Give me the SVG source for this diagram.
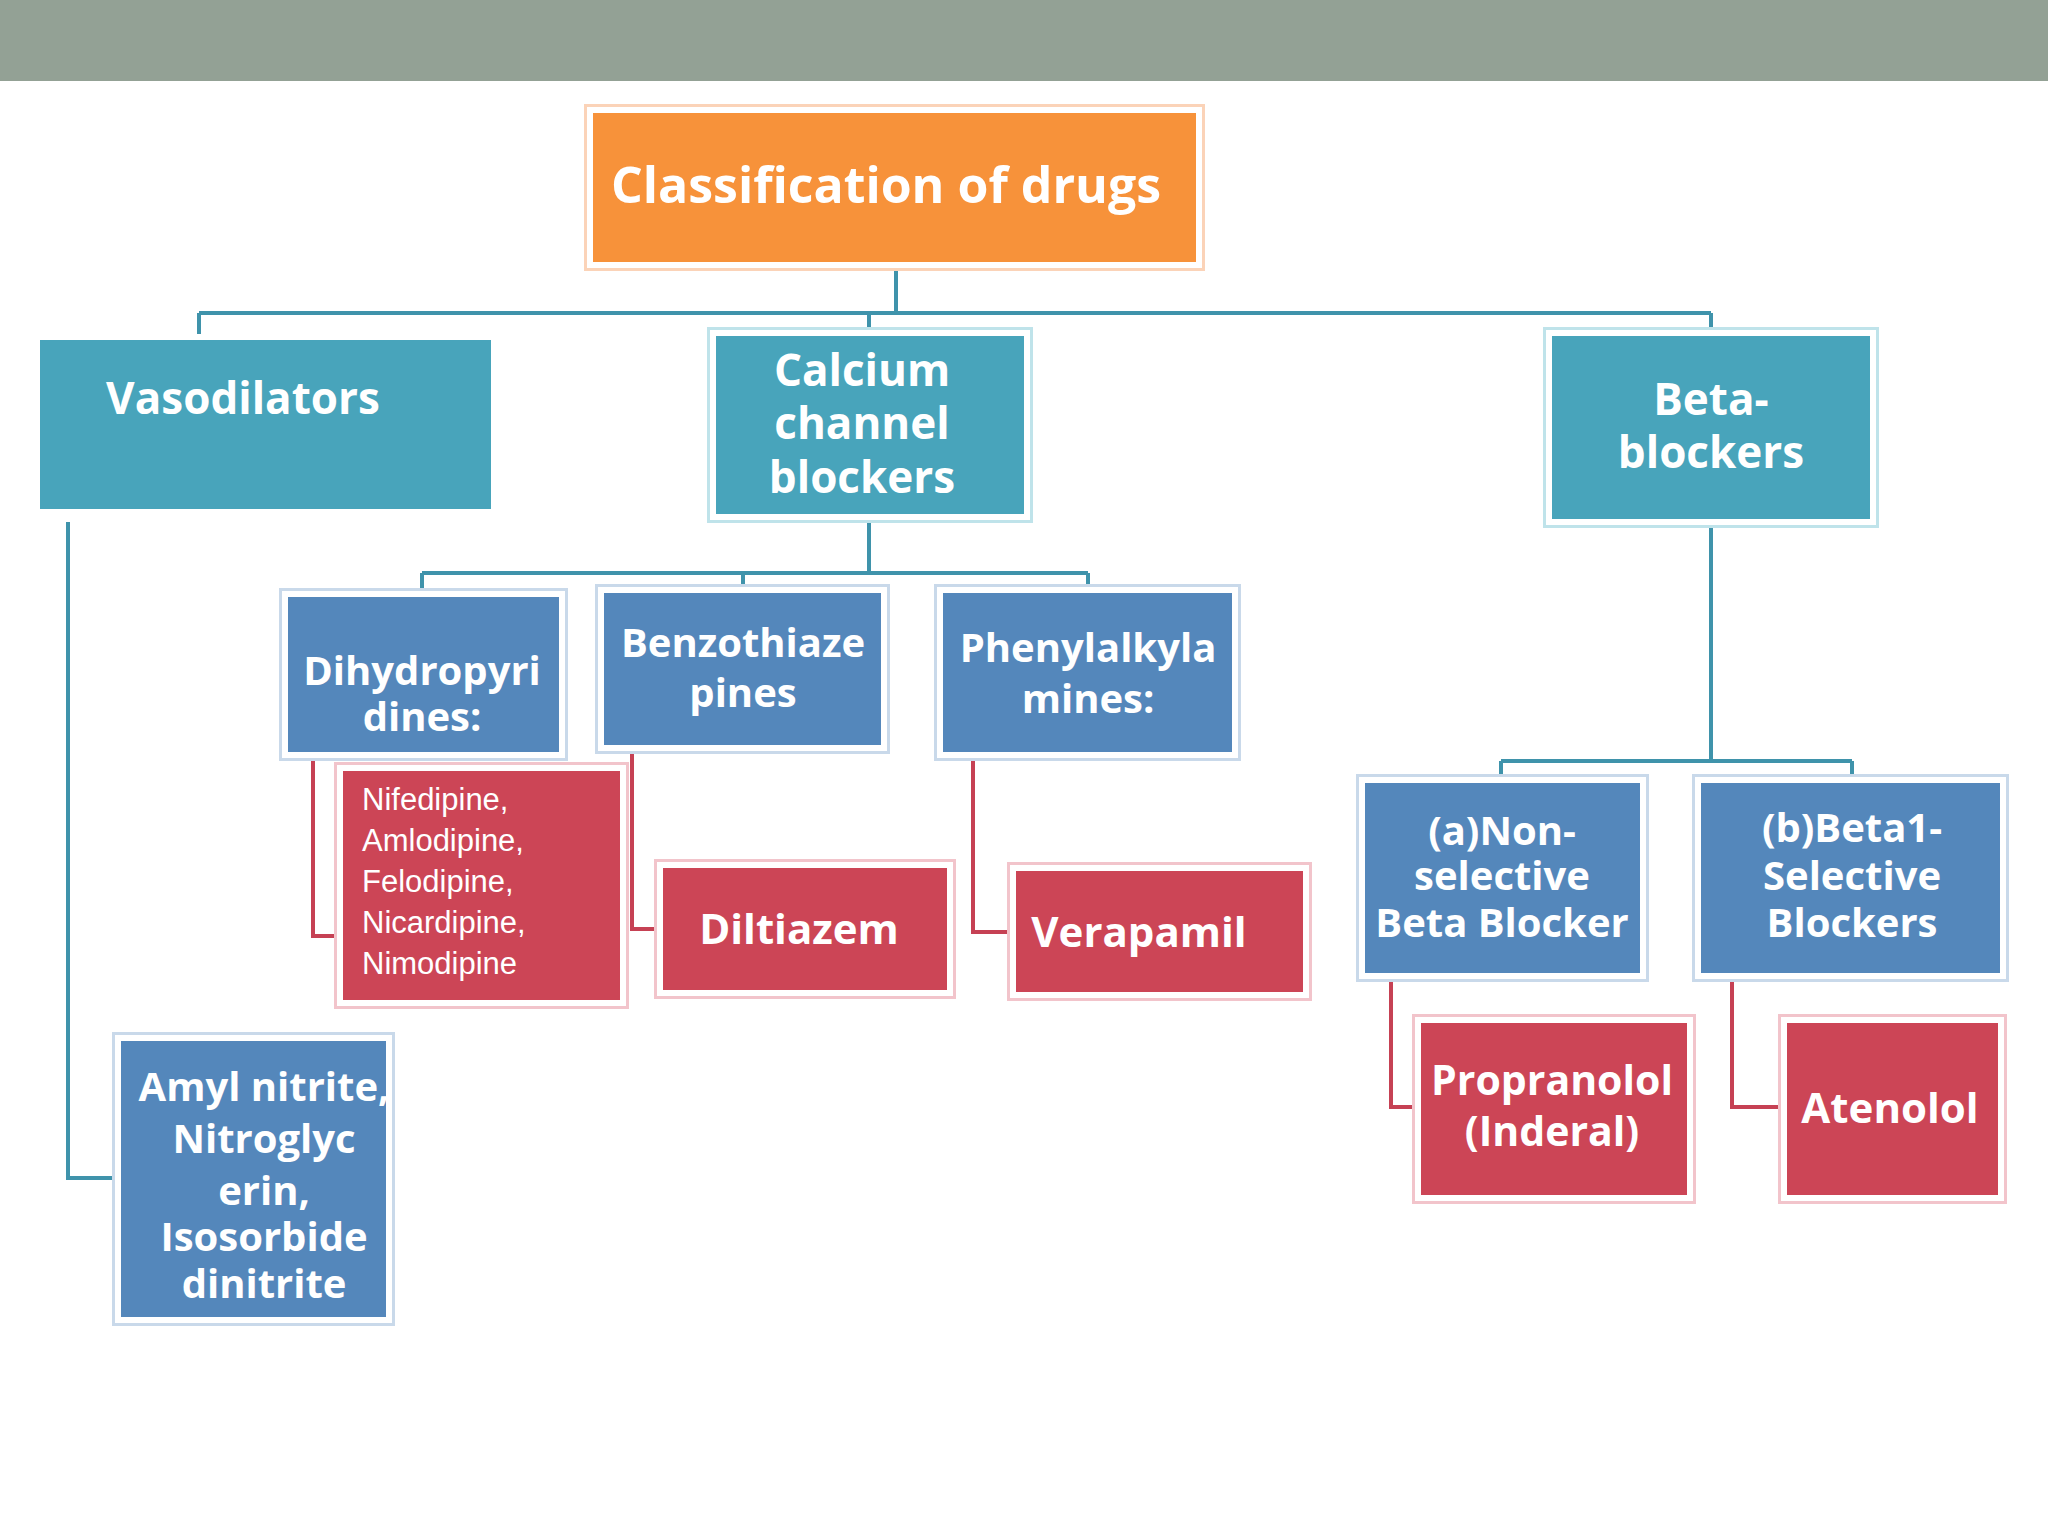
<svg xmlns="http://www.w3.org/2000/svg" width="2048" height="1536" viewBox="0 0 2048 1536">
<style>
.t{font-family:"Open Sans","Liberation Sans",sans-serif;font-weight:bold;fill:#fff;text-anchor:middle}
.teal{fill:#48a4bb;stroke:#fff;stroke-width:6}
.blue{fill:#5487bb;stroke:#fff;stroke-width:6}
.red{fill:#cc4556;stroke:#fff;stroke-width:6}
.glowT{fill:none;stroke:#bfe3ea;stroke-width:12}
.glowB{fill:none;stroke:#c9d9ea;stroke-width:12}
.glowR{fill:none;stroke:#f2c4cb;stroke-width:12}
.cT{fill:none;stroke:#3f93ab;stroke-width:4}
.cR{fill:none;stroke:#c64154;stroke-width:4}
</style>
<rect x="0" y="0" width="2048" height="81" fill="#93a195"/>
<g id="connectors">
<path class="cT" d="M896 265V313M199 313H1711M199 313V337M869 313V333M1711 313V333"/>
<path class="cT" d="M869 517V573M422 573H1088M422 573V594M743 573V590M1088 573V590"/>
<path class="cT" d="M68 522V1178H118"/>
<path class="cT" d="M1711 522V761M1501 761H1852M1501 761V780M1852 761V780"/>
<path class="cR" d="M313 755V936H340M632 748V929H660M973 755V932H1013M1391 976V1107H1418M1732 976V1107H1784"/>
</g>
<g id="title">
<rect x="590" y="110" width="609" height="155" fill="none" stroke="#fbd3b8" stroke-width="12"/>
<rect x="590" y="110" width="609" height="155" fill="#f7923a" stroke="#fff" stroke-width="6"/>
<text class="t" x="886" y="203" font-size="50">Classification of drugs</text>
</g>
<g id="vasodilators"><rect class="teal" x="37" y="337" width="457" height="175" stroke="none"/><text class="t" x="243" y="414" font-size="44">Vasodilators</text></g>
<g id="ccb"><rect class="glowT" x="713" y="333" width="314" height="184"/><rect class="teal" x="713" y="333" width="314" height="184"/>
<text class="t" font-size="44"><tspan x="862" y="386">Calcium</tspan><tspan x="862" y="439">channel</tspan><tspan x="862" y="493">blockers</tspan></text></g>
<g id="beta"><rect class="glowT" x="1549" y="333" width="324" height="189"/><rect class="teal" x="1549" y="333" width="324" height="189"/>
<text class="t" font-size="44"><tspan x="1711" y="415">Beta-</tspan><tspan x="1711" y="468">blockers</tspan></text></g>
<g id="dhp"><rect class="glowB" x="285" y="594" width="277" height="161"/><rect class="blue" x="285" y="594" width="277" height="161"/>
<text class="t" font-size="40"><tspan x="422" y="685">Dihydropyri</tspan><tspan x="422" y="731">dines:</tspan></text></g>
<g id="btz"><rect class="glowB" x="601" y="590" width="283" height="158"/><rect class="blue" x="601" y="590" width="283" height="158"/>
<text class="t" font-size="40"><tspan x="743" y="657">Benzothiaze</tspan><tspan x="743" y="707">pines</tspan></text></g>
<g id="pha"><rect class="glowB" x="940" y="590" width="295" height="165"/><rect class="blue" x="940" y="590" width="295" height="165"/>
<text class="t" font-size="40"><tspan x="1088" y="662">Phenylalkyla</tspan><tspan x="1088" y="713">mines:</tspan></text></g>
<g id="nif"><rect class="glowR" x="340" y="768" width="283" height="235"/><rect class="red" x="340" y="768" width="283" height="235"/>
<text font-family="Liberation Sans,Arial,sans-serif" font-size="31" fill="#fff"><tspan x="362" y="810">Nifedipine,</tspan><tspan x="362" y="851">Amlodipine,</tspan><tspan x="362" y="892">Felodipine,</tspan><tspan x="362" y="933">Nicardipine,</tspan><tspan x="362" y="974">Nimodipine</tspan></text></g>
<g id="dil"><rect class="glowR" x="660" y="865" width="290" height="128"/><rect class="red" x="660" y="865" width="290" height="128"/><text class="t" x="799" y="944" font-size="42">Diltiazem</text></g>
<g id="ver"><rect class="glowR" x="1013" y="868" width="293" height="127"/><rect class="red" x="1013" y="868" width="293" height="127"/><text class="t" x="1139" y="947" font-size="42">Verapamil</text></g>
<g id="amyl"><rect class="glowB" x="118" y="1038" width="271" height="282"/><rect class="blue" x="118" y="1038" width="271" height="282"/>
<text class="t" font-size="40"><tspan x="264" y="1101">Amyl nitrite,</tspan><tspan x="264" y="1153">Nitroglyc</tspan><tspan x="264" y="1205">erin,</tspan><tspan x="264" y="1251">Isosorbide</tspan><tspan x="264" y="1298">dinitrite</tspan></text></g>
<g id="nonsel"><rect class="glowB" x="1362" y="780" width="281" height="196"/><rect class="blue" x="1362" y="780" width="281" height="196"/>
<text class="t" font-size="40"><tspan x="1502" y="845">(a)Non-</tspan><tspan x="1502" y="890">selective</tspan><tspan x="1502" y="937">Beta Blocker</tspan></text></g>
<g id="b1"><rect class="glowB" x="1698" y="780" width="305" height="196"/><rect class="blue" x="1698" y="780" width="305" height="196"/>
<text class="t" font-size="40"><tspan x="1852" y="842">(b)Beta1-</tspan><tspan x="1852" y="890">Selective</tspan><tspan x="1852" y="937">Blockers</tspan></text></g>
<g id="prop"><rect class="glowR" x="1418" y="1020" width="272" height="178"/><rect class="red" x="1418" y="1020" width="272" height="178"/>
<text class="t" font-size="41"><tspan x="1552" y="1095">Propranolol</tspan><tspan x="1552" y="1146">(Inderal)</tspan></text></g>
<g id="aten"><rect class="glowR" x="1784" y="1020" width="217" height="178"/><rect class="red" x="1784" y="1020" width="217" height="178"/><text class="t" x="1890" y="1123" font-size="42">Atenolol</text></g>
</svg>
